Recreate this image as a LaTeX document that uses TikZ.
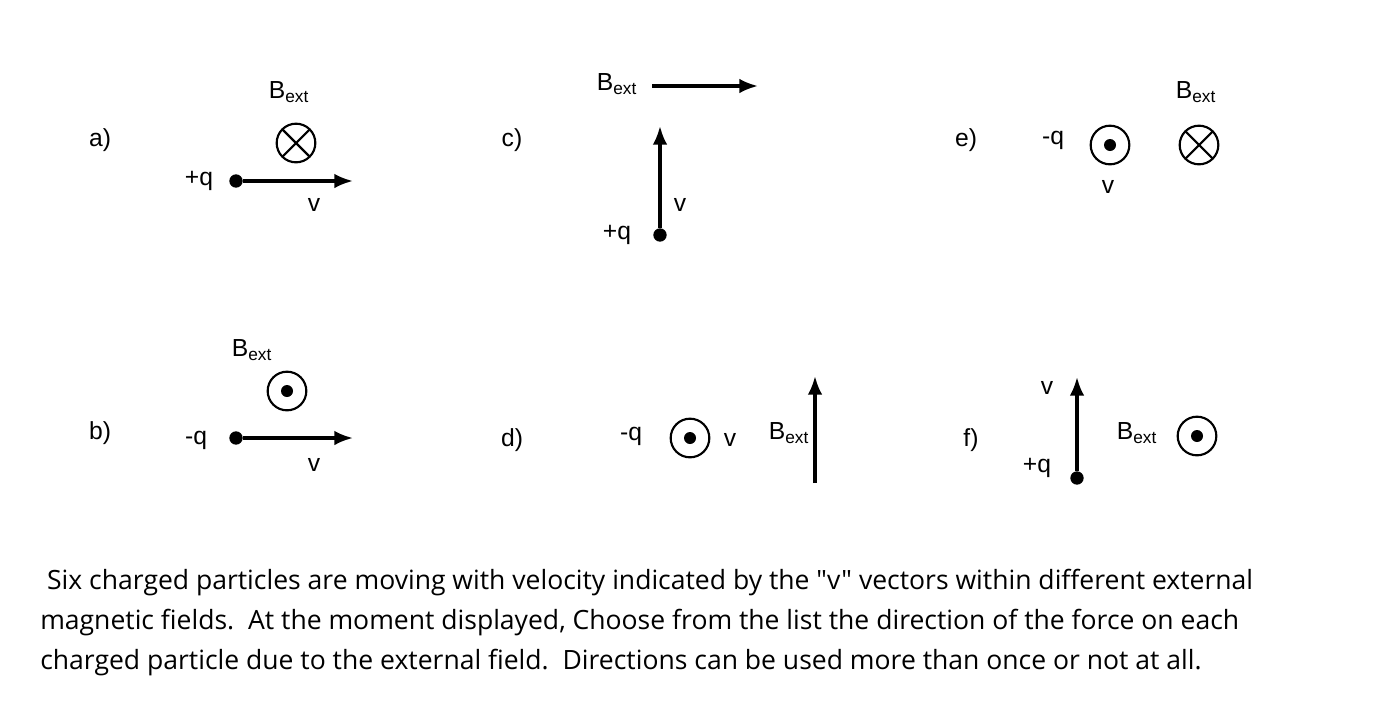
\documentclass[tikz,border=0pt]{standalone}
\usepackage{fontspec}
\usetikzlibrary{arrows.meta}
\setmainfont{Liberation Sans}
\newfontfamily\para{Open Sans}
\begin{document}
\begin{tikzpicture}[x=0.75pt,y=-0.75pt,
  lbl/.style={font=\fontsize{18.5}{20}\selectfont},
  vec/.style={line width=2.4pt,-{Latex[length=14pt,width=11pt]}},
  dotp/.style={circle,fill=black,inner sep=0pt,minimum size=10pt},
  ring/.style={circle,draw,line width=1.6pt,minimum size=29pt,inner sep=0pt},
  ptext/.style={anchor=west,inner sep=0pt,font=\para\fontsize{19.9}{30}\selectfont}]
\useasboundingbox (0,0) rectangle (1384,704);
\newcommand{\bext}{B\textsubscript{ext}}
\tikzset{crossring/.style={ring,path picture={\draw[line width=1.6pt] (path picture bounding box.south west)--(path picture bounding box.north east) (path picture bounding box.north west)--(path picture bounding box.south east);}},
 dotring/.style={ring,path picture={\fill (path picture bounding box.center) circle (4.5pt);}}}
% a
\node[lbl] (la) at (100,140) {a)};
\node[lbl] (ba) at (289,92) {\bext};
\node[crossring] (xa) at (296,143) {};
\node[dotp] (pa) at (236,181) {};
\coordinate (ea) at (353,181);
\draw[vec] (pa) -- (ea);
\node[lbl] (qa) at (199,181) {+q};
\node[lbl] (va) at (314,205) {v};
% c
\node[lbl] (lc) at (512,140) {c)};
\node[lbl] (bc) at (617,84) {\bext};
\coordinate (bc1) at (652,86); \coordinate (bc2) at (758,86);
\draw[vec] (bc1) -- (bc2);
\node[dotp] (pc) at (660,235) {};
\coordinate (ec) at (660,126);
\draw[vec] (pc) -- (ec);
\node[lbl] (vc) at (680,205) {v};
\node[lbl] (qc) at (617,235) {+q};
% e
\node[lbl] (le) at (966,140) {e)};
\node[lbl] (qe) at (1053,140) {-q};
\node[dotring] (de) at (1110,145) {};
\node[lbl] (ve) at (1108,187) {v};
\node[lbl] (be) at (1196,92) {\bext};
\node[crossring] (xe) at (1199,145) {};
% b
\node[lbl] (lb) at (100,433) {b)};
\node[lbl] (bb) at (252,350) {\bext};
\node[dotring] (db) at (287,391) {};
\node[lbl] (qb) at (196,440) {-q};
\node[dotp] (pb) at (236,438) {};
\coordinate (eb) at (353,438);
\draw[vec] (pb) -- (eb);
\node[lbl] (vb) at (314,465) {v};
% d
\node[lbl] (ld) at (512,440) {d)};
\node[lbl] (qd) at (631,436) {-q};
\node[dotring] (dd) at (690,438) {};
\node[lbl] (vd) at (730,440) {v};
\node[lbl] (bd) at (789,433) {\bext};
\coordinate (d1) at (815,483); \coordinate (d2) at (815,376);
\draw[vec] (d1) -- (d2);
% f
\node[lbl] (lf) at (971,440) {f)};
\node[lbl] (vf) at (1047,388) {v};
\node[dotp] (pf) at (1077,478) {};
\coordinate (ef) at (1077,377);
\draw[vec] (pf) -- (ef);
\node[lbl] (qf) at (1037,468) {+q};
\node[lbl] (bf) at (1137,433) {\bext};
\node[dotring] (df) at (1197,436) {};
% paragraph
\node[ptext] (t1) at (40,583) {\ Six charged particles are moving with velocity indicated by the "v" vectors within different external};
\node[ptext] (t2) at (40,623) {magnetic fields.\ \ At the moment displayed, Choose from the list the direction of the force on each};
\node[ptext] (t3) at (40,663) {charged particle due to the external field.\ \ Directions can be used more than once or not at all.};
\end{tikzpicture}
\end{document}
